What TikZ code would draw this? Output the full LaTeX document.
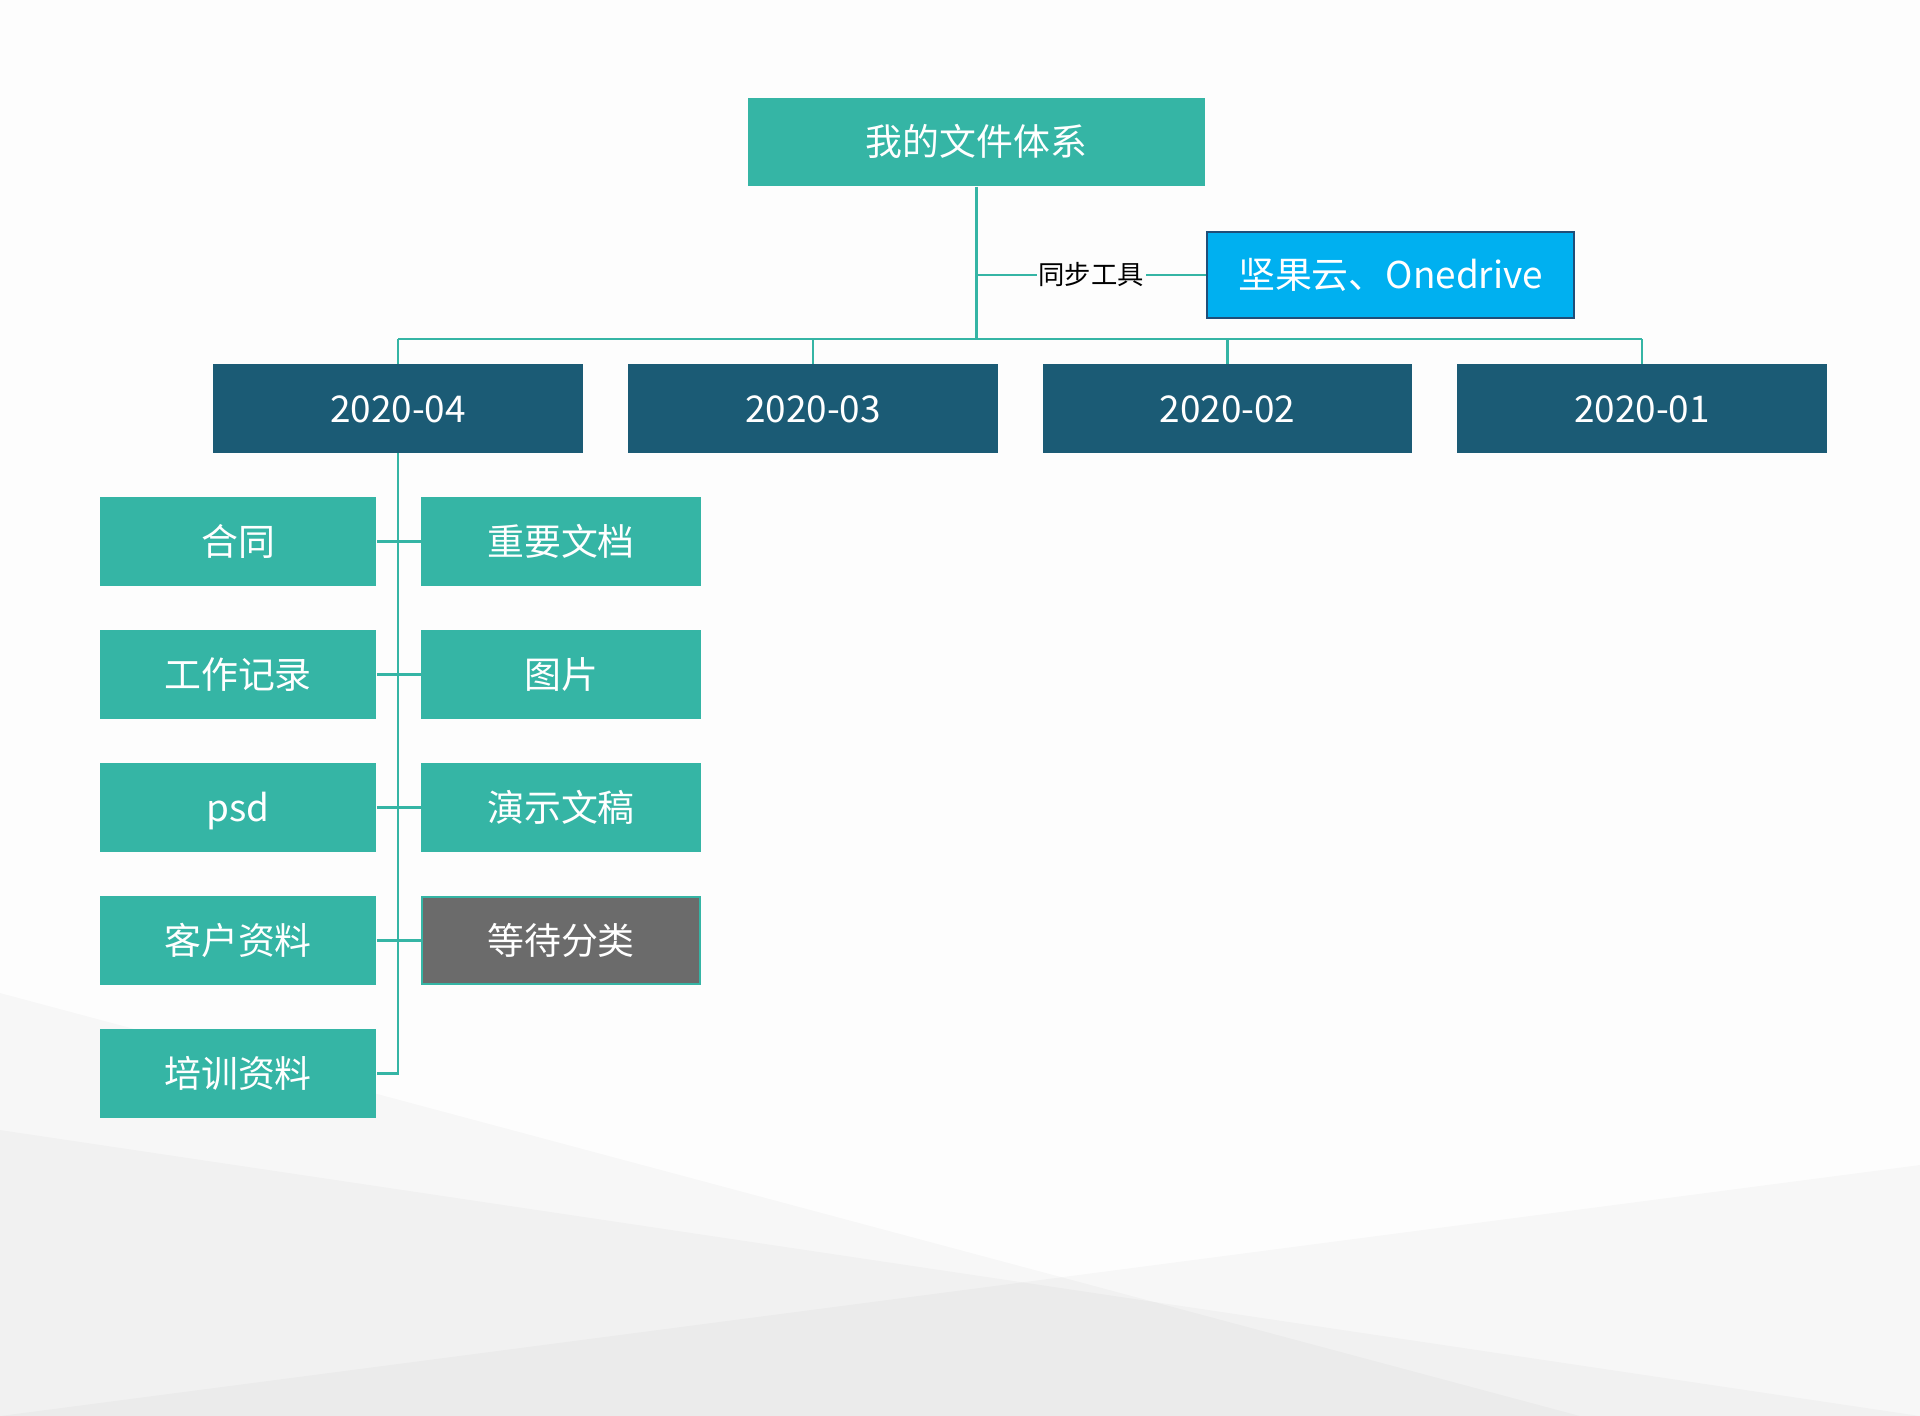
\documentclass[tikz,border=0pt]{standalone}
\usepackage{fontspec}
\setmainfont{Noto Sans CJK SC}
\usepackage{tikz}
\definecolor{folderTeal}{RGB}{53,181,165}
\definecolor{monthBlue}{RGB}{27,91,117}
\definecolor{cloudBlue}{RGB}{0,176,240}
\definecolor{cloudEdge}{RGB}{31,78,121}
\definecolor{waitGray}{RGB}{107,107,107}
\definecolor{pageColor}{RGB}{253,253,253}
\tikzstyle{chart} = [x = .02cm, y = -.02cm]
\tikzstyle{folderStyle} = [fill=folderTeal, text=white, font=\fontsize{21}{25}\selectfont, inner sep=0pt, text height=18pt, text depth=2.5pt, minimum height=1.78cm]
\tikzstyle{rootStyle} = [folderStyle, minimum width=9.14cm]
\tikzstyle{monthStyle} = [folderStyle, fill=monthBlue, minimum width=7.4cm]
\tikzstyle{cloudStyle} = [folderStyle, fill=cloudBlue, draw=cloudEdge, line width=.04cm, minimum width=7.34cm, minimum height=1.72cm]
\tikzstyle{leftItem} = [folderStyle, minimum width=5.54cm]
\tikzstyle{rightItem} = [folderStyle, minimum width=5.6cm]
\tikzstyle{waitStyle} = [rightItem, fill=waitGray, draw=folderTeal, line width=.04cm, minimum width=5.56cm, minimum height=1.74cm]
\tikzstyle{linkLine} = [color=folderTeal, line width=.05cm]
\tikzstyle{toolLabel} = [fill=pageColor, text=black, font=\fontsize{15}{18}\selectfont, inner sep=1pt]
\tikzstyle{backShade} = [fill=black, opacity=.025]
\begin{document}
\begin{tikzpicture}[chart]
  \fill [pageColor] (0,0) rectangle (1920,1416);
  \useasboundingbox (0,0) rectangle (1920,1416);
  % background wedges
  \fill [backShade] (0,993) -- (1580,1416) -- (0,1416) -- cycle;
  \fill [backShade] (0,1130) -- (1920,1416) -- (0,1416) -- cycle;
  \fill [backShade] (1920,1165) -- (1920,1416) -- (0,1416) -- cycle;

  \coordinate (busLeft) at (398,339);

  \node [rootStyle] (root) at (976.5,142) {我的文件体系};
  \node [cloudStyle] (cloud) at (1390.5,275) {坚果云、Onedrive};
  \foreach \mon/\xpos in {04/398,03/813,02/1227.5,01/1642} {
    \node [monthStyle] (m\mon) at (\xpos,408.5) {2020-\mon};
  }

  \foreach \name/\ypos/\itemText in {contract/541.5/合同, worklog/674.5/工作记录, psd/807.5/psd, client/940.5/客户资料, training/1073.5/培训资料} {
    \node [leftItem] (\name) at (238,\ypos) {\itemText};
  }
  \foreach \name/\ypos/\itemText in {important/541.5/重要文档, pictures/674.5/图片, slides/807.5/演示文稿} {
    \node [rightItem] (\name) at (561,\ypos) {\itemText};
  }
  \node [waitStyle] (waiting) at (561,940.5) {等待分类};

  % links
  \draw [linkLine] (root.south) -- (root.south |- busLeft);
  \draw [linkLine] (m04.north |- busLeft) -- (m01.north |- busLeft);
  \foreach \mon in {04,03,02,01} {
    \draw [linkLine] (m\mon.north) -- (m\mon.north |- busLeft);
  }
  \draw [linkLine] (root.south |- cloud.west) -- node [toolLabel] {同步工具} (cloud.west);
  \draw [linkLine] (m04.south) -- (m04.south |- training.east) -- (training.east);
  \foreach \a/\b in {contract/important, worklog/pictures, psd/slides, client/waiting} {
    \draw [linkLine] (\a.east) -- (\b.west);
  }
\end{tikzpicture}
\end{document}
